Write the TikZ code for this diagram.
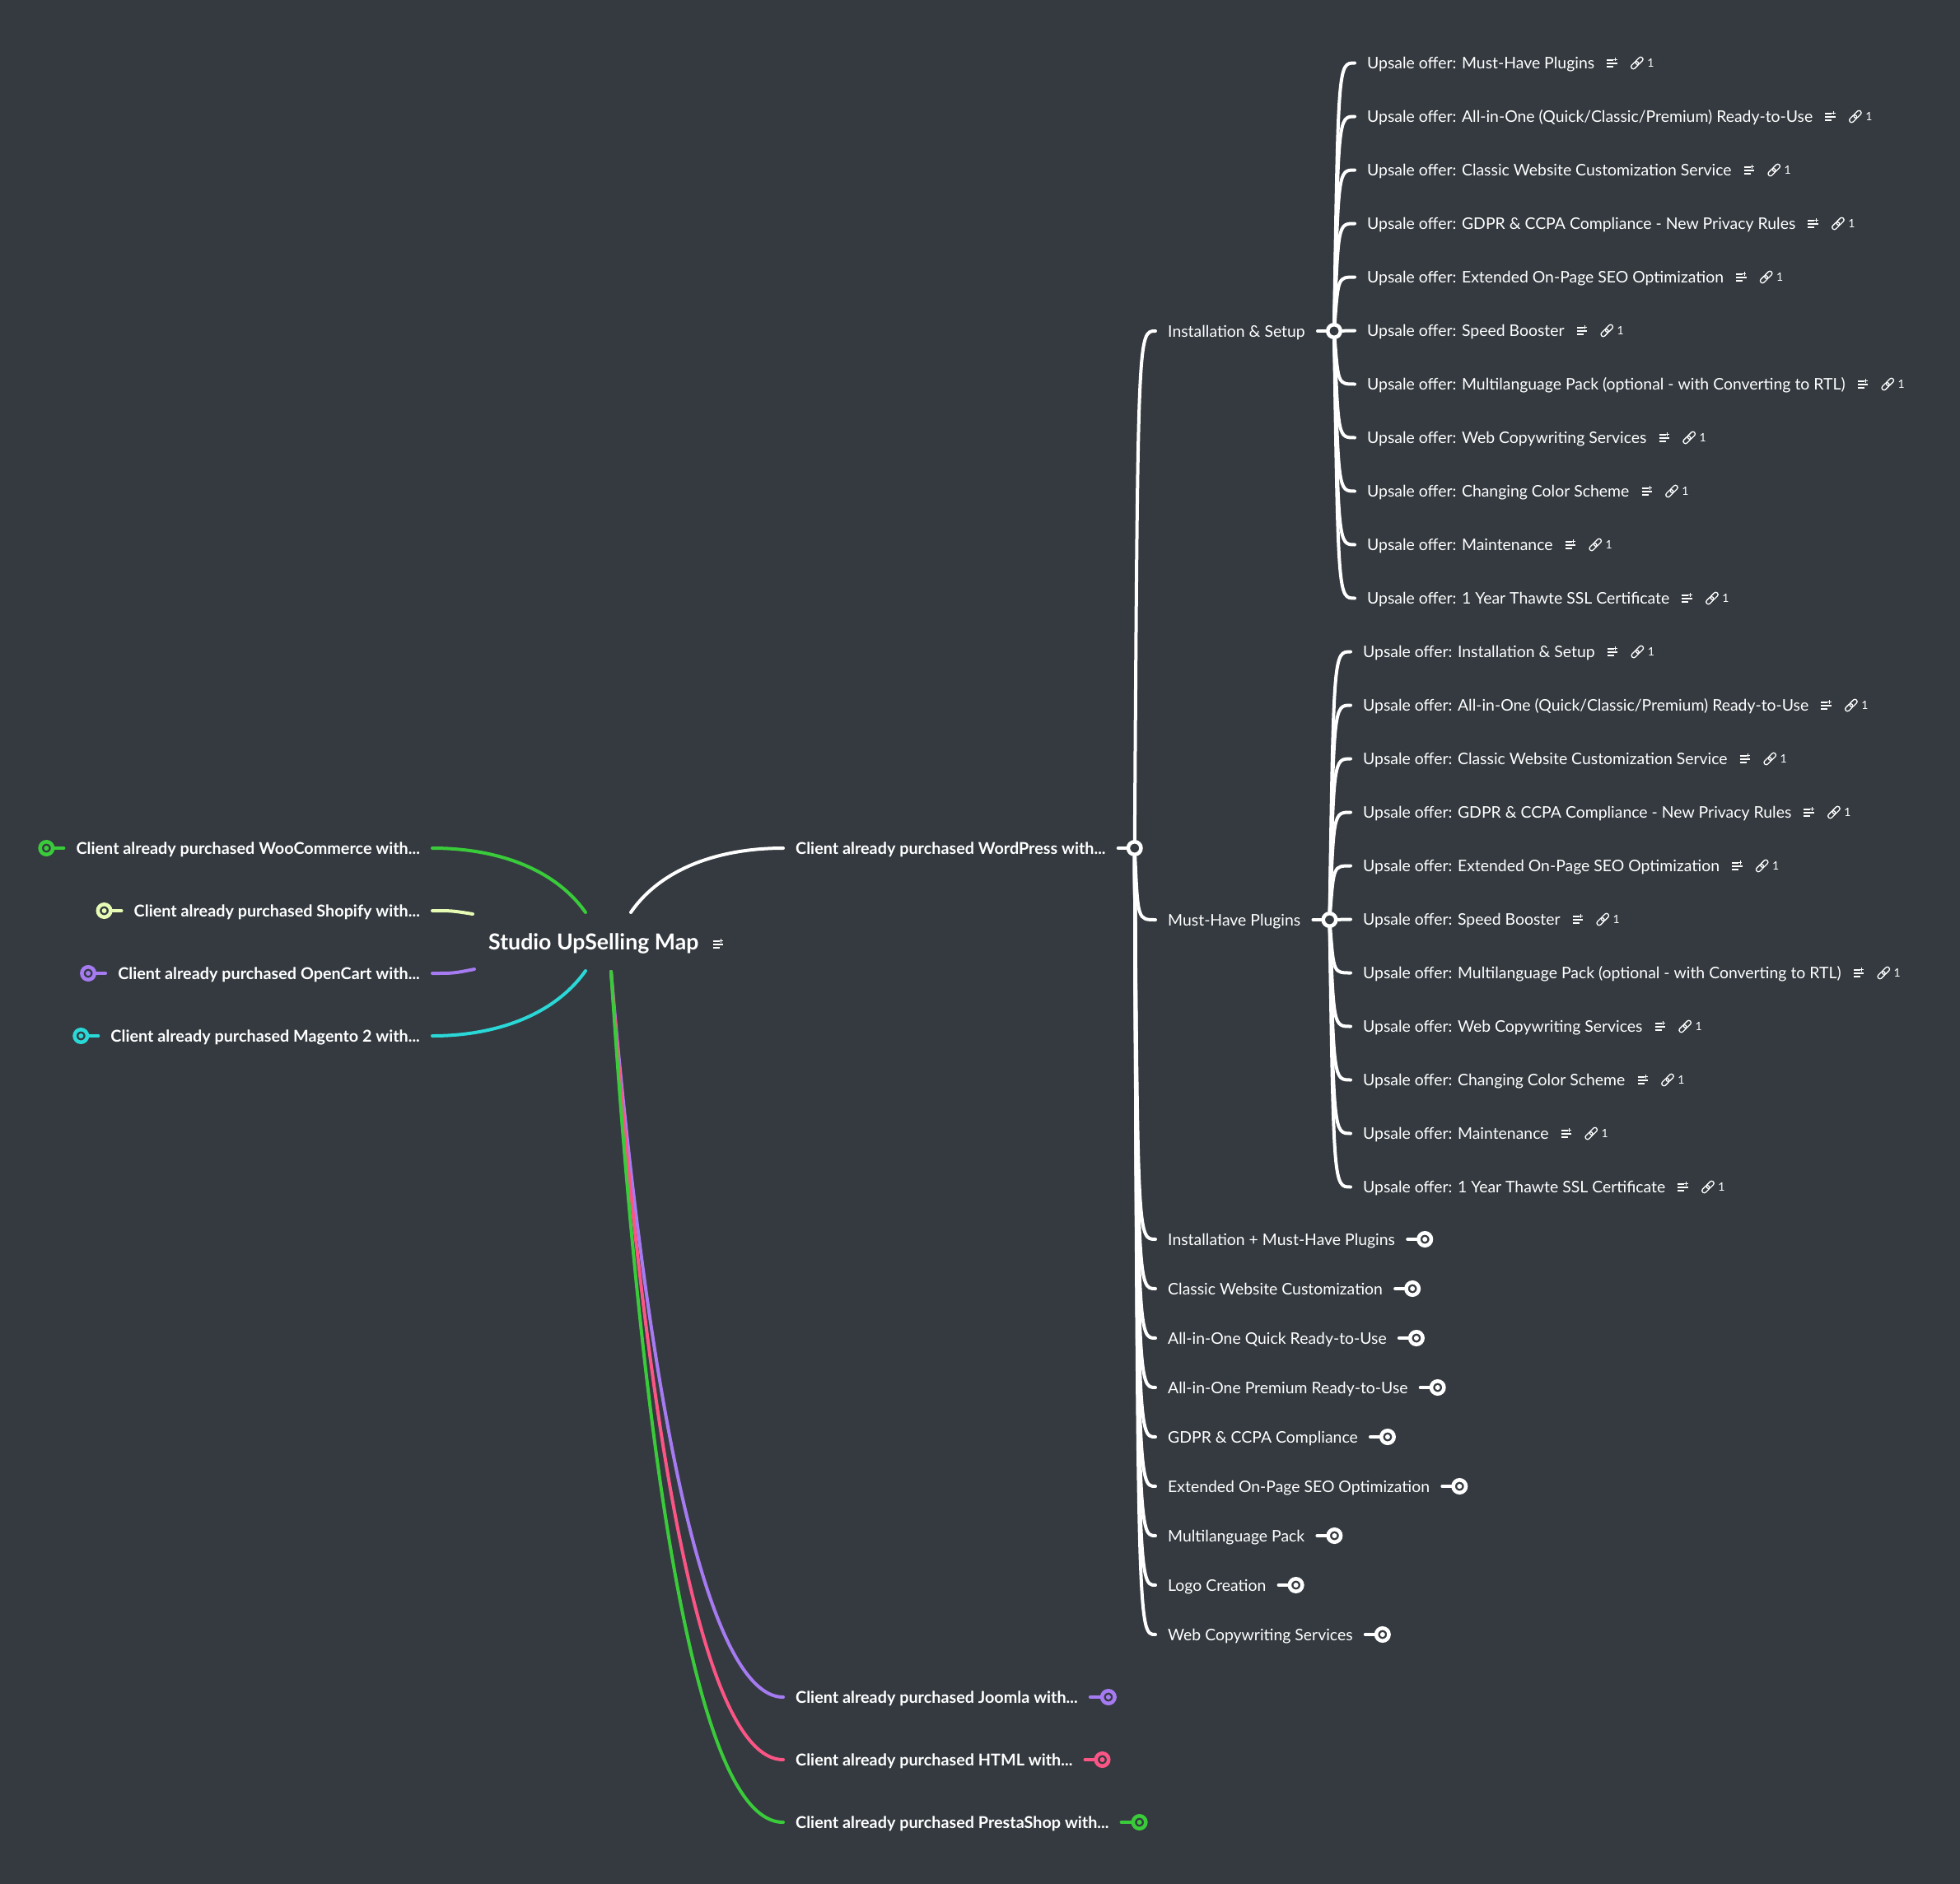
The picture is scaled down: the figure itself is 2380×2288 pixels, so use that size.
\documentclass[tikz,border=0pt]{standalone}
\usepackage{fontspec}
\setmainfont{Lato}
\usetikzlibrary{positioning}

\definecolor{mapbg}{HTML}{343A40}
\definecolor{mapgreen}{HTML}{3ACB3A}
\definecolor{mapyellow}{HTML}{E8FBB4}
\definecolor{mappurple}{HTML}{A67BF2}
\definecolor{mapcyan}{HTML}{2AD8D8}
\definecolor{mappink}{HTML}{FB5585}

\tikzset{
    noteicon/.pic={
        \draw [white, line width=1.7] (0,-3.2) -- (8,-3.2) (0,0.2) -- (12.5,0.2) (0,4.2) -- (8,4.2);
        \draw [white, line width=1.3] (10,-6.5) -- (10,-2) (7.8,-4.2) -- (12.2,-4.2);
    },
    offericons/.pic={
        \draw [white, line width=1.7] (0,-3.2) -- (8,-3.2) (0,0.2) -- (12.5,0.2) (0,4.2) -- (8,4.2);
        \draw [white, line width=1.3] (10,-6.5) -- (10,-2) (7.8,-4.2) -- (12.2,-4.2);
        \begin{scope}[shift={(36.5,0)}]
        \draw [white, line width=1.3, rounded corners=2.5, rotate=45] (-9,-2.7) rectangle (1.5,2.7);
        \draw [white, line width=1.3, rounded corners=2.5, rotate=45] (-1.5,-2.7) rectangle (9,2.7);
        \node [font=\fontsize{14}{16}\selectfont, text=white, inner sep=0] (one) at (16.5,0) {1};
        \end{scope}
    },
    rowtext/.style={text=white, inner ysep=0, inner xsep=15, text height=17, text depth=3, font=\fontsize{19.4}{24}\selectfont},
    topic/.style={rowtext, anchor=west, font=\fontsize{19.8}{24}\selectfont\bfseries},
    lefttopic/.style={topic, anchor=east},
    leaf/.style={rowtext, anchor=west},
    offer/.style={leaf, append after command={(\tikzlastnode.east) pic {offericons}}},
    nextrow/.style={below=of #1.west, anchor=west},
    nextleft/.style={below=of #1.east, anchor=east},
    hub/.style={circle, draw=white, line width=4.5, minimum size=15.5, inner sep=0},
    shut/.style={circle, draw=#1, line width=4.5, minimum size=15.5, inner sep=0, path picture={\fill [#1] (path picture bounding box.center) circle (3);}},
    branch/.style={line width=4, line cap=round, draw=#1},
    branch/.default=white,
    trunk/.style={to path={.. controls ([xshift=#1pt]\tikztostart |- \tikztotarget) .. (\tikztotarget)}}
}

\begin{document}
\begin{tikzpicture}[x=1pt, y=-1pt, node distance=65pt]
    \useasboundingbox (0,0) rectangle (2380,2288);
    \fill [mapbg] (0,0) rectangle (2380,2288);

    % Root
    \node [rowtext, anchor=west, inner xsep=17, font=\fontsize{26.7}{32}\selectfont\bfseries] (root) at (576,1146.5) {Studio UpSelling Map};
    \pic at (root.east) {noteicon};
    \coordinate (rootNW) at (711,1108);
    \coordinate (rootNE) at (766,1108);
    \coordinate (rootW) at (574,1110);
    \coordinate (rootSW) at (576,1177);
    \coordinate (rootS) at (711,1179);
    \coordinate (rootB) at (742,1180);

    % Left topics
    \begin{scope}[node distance=76pt]
    \node [lefttopic] (woo) at (525,1030) {Client already purchased WooCommerce with...};
    \node [lefttopic, nextleft=woo] (shopify) {Client already purchased Shopify with...};
    \node [lefttopic, nextleft=shopify] (opencart) {Client already purchased OpenCart with...};
    \node [lefttopic, nextleft=opencart] (magento) {Client already purchased Magento 2 with...};
    \end{scope}
    \node [shut=mapgreen, left=11pt of woo] (wooEnd) {};
    \node [shut=mapyellow, left=11pt of shopify] (shopifyEnd) {};
    \node [shut=mappurple, left=11pt of opencart] (opencartEnd) {};
    \node [shut=mapcyan, left=11pt of magento] (magentoEnd) {};

    % Right topics
    \node [topic] (wp) at (951,1030) {Client already purchased WordPress with...};
    \node [hub, right=10pt of wp] (hubW) {};
    \begin{scope}[node distance=76pt]
    \node [topic] (joomla) at (951,2061) {Client already purchased Joomla with...};
    \node [topic, nextrow=joomla] (html) {Client already purchased HTML with...};
    \node [topic, nextrow=html] (presta) {Client already purchased PrestaShop with...};
    \end{scope}
    \node [shut=mappurple, right=12pt of joomla] (joomlaEnd) {};
    \node [shut=mappink, right=11pt of html] (htmlEnd) {};
    \node [shut=mapgreen, right=12pt of presta] (prestaEnd) {};

    % Installation and its offers
    \node [leaf] (install) at (1403,402) {Installation \& Setup};
    \node [hub, right=10pt of install] (hubA) {};
    \node [offer] (a1) at (1645,76.5) {Upsale offer: Must-Have Plugins};
    \node [offer, nextrow=a1] (a2) {Upsale offer: All-in-One (Quick/Classic/Premium) Ready-to-Use};
    \node [offer, nextrow=a2] (a3) {Upsale offer: Classic Website Customization Service};
    \node [offer, nextrow=a3] (a4) {Upsale offer: GDPR \& CCPA Compliance - New Privacy Rules};
    \node [offer, nextrow=a4] (a5) {Upsale offer: Extended On-Page SEO Optimization};
    \node [offer, nextrow=a5] (a6) {Upsale offer: Speed Booster};
    \node [offer, nextrow=a6] (a7) {Upsale offer: Multilanguage Pack (optional - with Converting to RTL)};
    \node [offer, nextrow=a7] (a8) {Upsale offer: Web Copywriting Services};
    \node [offer, nextrow=a8] (a9) {Upsale offer: Changing Color Scheme};
    \node [offer, nextrow=a9] (a10) {Upsale offer: Maintenance};
    \node [offer, nextrow=a10] (a11) {Upsale offer: 1 Year Thawte SSL Certificate};

    % Plugins and its offers
    \node [leaf] (plugins) at (1403,1117) {Must-Have Plugins};
    \node [hub, right=10pt of plugins] (hubB) {};
    \node [offer] (b1) at (1640,791.5) {Upsale offer: Installation \& Setup};
    \node [offer, nextrow=b1] (b2) {Upsale offer: All-in-One (Quick/Classic/Premium) Ready-to-Use};
    \node [offer, nextrow=b2] (b3) {Upsale offer: Classic Website Customization Service};
    \node [offer, nextrow=b3] (b4) {Upsale offer: GDPR \& CCPA Compliance - New Privacy Rules};
    \node [offer, nextrow=b4] (b5) {Upsale offer: Extended On-Page SEO Optimization};
    \node [offer, nextrow=b5] (b6) {Upsale offer: Speed Booster};
    \node [offer, nextrow=b6] (b7) {Upsale offer: Multilanguage Pack (optional - with Converting to RTL)};
    \node [offer, nextrow=b7] (b8) {Upsale offer: Web Copywriting Services};
    \node [offer, nextrow=b8] (b9) {Upsale offer: Changing Color Scheme};
    \node [offer, nextrow=b9] (b10) {Upsale offer: Maintenance};
    \node [offer, nextrow=b10] (b11) {Upsale offer: 1 Year Thawte SSL Certificate};

    % Closed leaves
    \begin{scope}[node distance=60pt]
    \node [leaf] (c1) at (1403,1505) {Installation + Must-Have Plugins};
    \node [leaf, nextrow=c1] (c2) {Classic Website Customization};
    \node [leaf, nextrow=c2] (c3) {All-in-One Quick Ready-to-Use};
    \node [leaf, nextrow=c3] (c4) {All-in-One Premium Ready-to-Use};
    \node [leaf, nextrow=c4] (c5) {GDPR \& CCPA Compliance};
    \node [leaf, nextrow=c5] (c6) {Extended On-Page SEO Optimization};
    \node [leaf, nextrow=c6] (c7) {Multilanguage Pack};
    \node [leaf, nextrow=c7] (c8) {Logo Creation};
    \node [leaf, nextrow=c8] (c9) {Web Copywriting Services};
    \end{scope}
    \node [shut=white, right=11pt of c1] (c1End) {};
    \node [shut=white, right=11pt of c2] (c2End) {};
    \node [shut=white, right=11pt of c3] (c3End) {};
    \node [shut=white, right=11pt of c4] (c4End) {};
    \node [shut=white, right=11pt of c5] (c5End) {};
    \node [shut=white, right=11pt of c6] (c6End) {};
    \node [shut=white, right=11pt of c7] (c7End) {};
    \node [shut=white, right=11pt of c8] (c8End) {};
    \node [shut=white, right=11pt of c9] (c9End) {};

    % Paths
    \draw [branch=mapgreen] (rootNW) .. controls (672,1053) and (600,1030) .. (woo.east);
    \path [branch=mapyellow] (rootW) edge [trunk=-25] (shopify.east);
    \path [branch=mappurple] (rootSW) edge [trunk=-25] (opencart.east);
    \draw [branch=mapcyan] (rootS) .. controls (672,1234) and (600,1258) .. (magento.east);
    \draw [branch] (rootNE) .. controls (804,1053) and (876,1030) .. (wp.west);
    \draw [branch=mappurple] (rootB) .. controls (800,1850) and (880,2061) .. (joomla.west);
    \draw [branch=mappink] (rootB) .. controls (800,1925) and (878,2137) .. (html.west);
    \draw [branch=mapgreen] (rootB) .. controls (796,2000) and (876,2213) .. (presta.west);

    \path [branch=mapgreen] (woo.west) edge (wooEnd);
    \path [branch=mapyellow] (shopify.west) edge (shopifyEnd);
    \path [branch=mappurple] (opencart.west) edge (opencartEnd);
    \path [branch=mapcyan] (magento.west) edge (magentoEnd);
    \path [branch=mappurple] (joomla.east) edge (joomlaEnd);
    \path [branch=mappink] (html.east) edge (htmlEnd);
    \path [branch=mapgreen] (presta.east) edge (prestaEnd);

    \path [branch] (wp.east) edge (hubW);
    \path [branch] (hubW) edge [trunk=4] (install.west);
    \path [branch] (hubW) edge [trunk=4] (plugins.west);
    \path [branch] (hubW) edge [trunk=4] (c1.west);
    \path [branch] (hubW) edge [trunk=4] (c2.west);
    \path [branch] (hubW) edge [trunk=4] (c3.west);
    \path [branch] (hubW) edge [trunk=4] (c4.west);
    \path [branch] (hubW) edge [trunk=4] (c5.west);
    \path [branch] (hubW) edge [trunk=4] (c6.west);
    \path [branch] (hubW) edge [trunk=4] (c7.west);
    \path [branch] (hubW) edge [trunk=4] (c8.west);
    \path [branch] (hubW) edge [trunk=4] (c9.west);
    \path [branch] (c1.east) edge (c1End);
    \path [branch] (c2.east) edge (c2End);
    \path [branch] (c3.east) edge (c3End);
    \path [branch] (c4.east) edge (c4End);
    \path [branch] (c5.east) edge (c5End);
    \path [branch] (c6.east) edge (c6End);
    \path [branch] (c7.east) edge (c7End);
    \path [branch] (c8.east) edge (c8End);
    \path [branch] (c9.east) edge (c9End);

    \path [branch] (install.east) edge (hubA);
    \path [branch] (hubA) edge [trunk=5] (a1.west);
    \path [branch] (hubA) edge [trunk=5] (a2.west);
    \path [branch] (hubA) edge [trunk=5] (a3.west);
    \path [branch] (hubA) edge [trunk=5] (a4.west);
    \path [branch] (hubA) edge [trunk=5] (a5.west);
    \path [branch] (hubA) edge (a6.west);
    \path [branch] (hubA) edge [trunk=5] (a7.west);
    \path [branch] (hubA) edge [trunk=5] (a8.west);
    \path [branch] (hubA) edge [trunk=5] (a9.west);
    \path [branch] (hubA) edge [trunk=5] (a10.west);
    \path [branch] (hubA) edge [trunk=5] (a11.west);

    \path [branch] (plugins.east) edge (hubB);
    \path [branch] (hubB) edge [trunk=5] (b1.west);
    \path [branch] (hubB) edge [trunk=5] (b2.west);
    \path [branch] (hubB) edge [trunk=5] (b3.west);
    \path [branch] (hubB) edge [trunk=5] (b4.west);
    \path [branch] (hubB) edge [trunk=5] (b5.west);
    \path [branch] (hubB) edge (b6.west);
    \path [branch] (hubB) edge [trunk=5] (b7.west);
    \path [branch] (hubB) edge [trunk=5] (b8.west);
    \path [branch] (hubB) edge [trunk=5] (b9.west);
    \path [branch] (hubB) edge [trunk=5] (b10.west);
    \path [branch] (hubB) edge [trunk=5] (b11.west);

\end{tikzpicture}
\end{document}
